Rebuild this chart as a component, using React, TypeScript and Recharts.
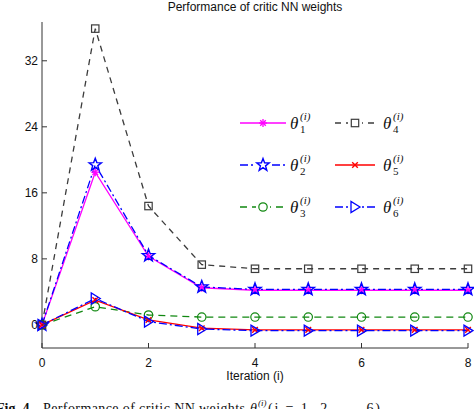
import React from 'react';
import {
  LineChart,
  Line,
  XAxis,
  YAxis,
  Legend,
} from 'recharts';

const iterations = [0, 1, 2, 3, 4, 5, 6, 7, 8];
const theta1 = [0, 18.5, 8.3, 4.5, 4.2, 4.2, 4.2, 4.2, 4.2];
const theta2 = [0, 19.4, 8.4, 4.6, 4.3, 4.3, 4.3, 4.3, 4.3];
const theta3 = [0, 2.2, 1.2, 0.95, 0.95, 0.95, 0.95, 0.95, 0.95];
const theta4 = [0, 35.9, 14.4, 7.3, 6.8, 6.8, 6.8, 6.8, 6.8];
const theta5 = [0, 3.0, 0.6, -0.4, -0.6, -0.6, -0.6, -0.6, -0.6];
const theta6 = [0, 3.2, 0.4, -0.5, -0.7, -0.7, -0.7, -0.7, -0.7];

const xTicks = [0, 2, 4, 6, 8];
const yTicks = [0, 8, 16, 24, 32];

const data = iterations.map((it, i) => ({
  it,
  t1: theta1[i],
  t2: theta2[i],
  t3: theta3[i],
  t4: theta4[i],
  t5: theta5[i],
  t6: theta6[i],
}));

const AXIS = '#333';
const FONT = '"Liberation Sans", Arial, sans-serif';
const SERIF = '"Liberation Serif", serif';

type Marker = 'asterisk' | 'star' | 'circle' | 'square' | 'cross' | 'triangle';

function markerShape(kind: Marker, cx: number, cy: number, color: string) {
  switch (kind) {
    case 'asterisk': {
      const r = 4;
      const d = r * 0.7;
      return (
        <g stroke={color} strokeWidth={1.3}>
          <line x1={cx - r} y1={cy} x2={cx + r} y2={cy} />
          <line x1={cx} y1={cy - r} x2={cx} y2={cy + r} />
          <line x1={cx - d} y1={cy - d} x2={cx + d} y2={cy + d} />
          <line x1={cx - d} y1={cy + d} x2={cx + d} y2={cy - d} />
        </g>
      );
    }
    case 'star': {
      const pts: string[] = [];
      for (let k = 0; k < 10; k++) {
        const r = k % 2 === 0 ? 6.5 : 2.7;
        const a = -Math.PI / 2 + (k * Math.PI) / 5;
        pts.push(`${cx + r * Math.cos(a)},${cy + r * Math.sin(a)}`);
      }
      return <polygon points={pts.join(' ')} fill="none" stroke={color} strokeWidth={1.4} />;
    }
    case 'circle':
      return <circle cx={cx} cy={cy} r={4.2} fill="none" stroke={color} strokeWidth={1.2} />;
    case 'square':
      return (
        <rect x={cx - 3.7} y={cy - 3.7} width={7.4} height={7.4} fill="none" stroke={color} strokeWidth={1.2} />
      );
    case 'cross': {
      const r = 2.8;
      return (
        <g stroke={color} strokeWidth={1.4}>
          <line x1={cx - r} y1={cy - r} x2={cx + r} y2={cy + r} />
          <line x1={cx - r} y1={cy + r} x2={cx + r} y2={cy - r} />
        </g>
      );
    }
    case 'triangle':
      return (
        <polygon
          points={`${cx + 5},${cy} ${cx - 4},${cy - 5.5} ${cx - 4},${cy + 5.5}`}
          fill="none"
          stroke={color}
          strokeWidth={1.3}
        />
      );
  }
}

const dotFor = (kind: Marker, color: string, name: string) => (props: any) => (
  <g key={`${name}-${props.index}`}>{markerShape(kind, props.cx, props.cy, color)}</g>
);

const series = [
  { key: 't1', sub: '1', color: '#ff00ff', dash: undefined, marker: 'asterisk' as Marker },
  { key: 't2', sub: '2', color: '#0000ff', dash: '8 3 2 3', marker: 'star' as Marker },
  { key: 't3', sub: '3', color: '#118811', dash: '7 5', marker: 'circle' as Marker },
  { key: 't4', sub: '4', color: '#3c3c3c', dash: '6 5', marker: 'square' as Marker },
  { key: 't5', sub: '5', color: '#ff0000', dash: undefined, marker: 'cross' as Marker },
  { key: 't6', sub: '6', color: '#0000ff', dash: '8 3 2 3', marker: 'triangle' as Marker },
];

const BottomTick = ({ x, y, payload }: any) => (
  <g>
    <line x1={x} x2={x} y1={y} y2={y - 5} stroke={AXIS} />
    <text x={x} y={y + 19} textAnchor="middle" fontSize={12} fontFamily={FONT} fill="#111">
      {payload.value}
    </text>
  </g>
);
const TopTick = ({ x, y }: any) => <line x1={x} x2={x} y1={y} y2={y + 5} stroke={AXIS} />;
const LeftTick = ({ x, y, payload }: any) => (
  <g>
    <line x1={x} x2={x + 5} y1={y} y2={y} stroke={AXIS} />
    <text x={x - 4} y={y + 4} textAnchor="end" fontSize={12} fontFamily={FONT} fill="#111">
      {payload.value}
    </text>
  </g>
);
const RightTick = ({ x, y }: any) => <line x1={x - 5} x2={x} y1={y} y2={y} stroke={AXIS} />;

// two-column legend drawn inside the plot box
const LegendBox = () => {
  const cols = [
    { lx: 10, len: 46, tx: 60 },
    { lx: 105, len: 40, tx: 153 },
  ];
  const rows = [23, 65, 107];
  return (
    <svg width={200} height={130}>
      {series.map((s, i) => {
        const c = cols[Math.floor(i / 3)];
        const y = rows[i % 3];
        const mx = c.lx + c.len / 2;
        return (
          <g key={s.key}>
            <line
              x1={c.lx}
              x2={c.lx + c.len}
              y1={y}
              y2={y}
              stroke={s.color}
              strokeWidth={1.4}
              strokeDasharray={s.dash}
            />
            <rect x={mx - 7} y={y - 7} width={14} height={14} fill="#fff" opacity={s.dash ? 1 : 0} />
            {markerShape(s.marker, mx, y, s.color)}
            <text x={c.tx} y={y + 6} fontSize={17} fontStyle="italic" fontFamily={SERIF} fill="#111">
              θ
            </text>
            <text x={c.tx + 10} y={y - 3} fontSize={11} fontStyle="italic" fontFamily={SERIF} fill="#111">
              (i)
            </text>
            <text x={c.tx + 10} y={y + 10} fontSize={11} fontFamily={SERIF} fill="#111">
              {s.sub}
            </text>
          </g>
        );
      })}
    </svg>
  );
};

export default function App() {
  return (
    <div style={{ position: 'absolute', left: 0, top: 0, width: 474, height: 409, overflow: 'hidden', background: '#fff' }}>
      <LineChart width={474} height={409} data={data} margin={{ top: 22, right: 6, bottom: 0, left: 0 }}>
        <XAxis
          dataKey="it"
          type="number"
          domain={[0, 8]}
          ticks={xTicks}
          height={61}
          tickSize={0}
          tickMargin={0}
          tick={<BottomTick />}
          axisLine={{ stroke: AXIS }}
          label={{ value: 'Iteration (i)', position: 'insideBottom', offset: 29, fontSize: 12, fontFamily: FONT, fill: '#111' }}
        />
        <XAxis
          xAxisId="top"
          orientation="top"
          dataKey="it"
          type="number"
          domain={[0, 8]}
          ticks={xTicks}
          height={0}
          tickSize={0}
          tickMargin={0}
          tick={<TopTick />}
          axisLine={{ stroke: AXIS }}
        />
        <YAxis
          type="number"
          domain={[-2.8, 36.7]}
          ticks={yTicks}
          width={42}
          tickSize={0}
          tickMargin={0}
          tick={<LeftTick />}
          axisLine={{ stroke: AXIS }}
          allowDataOverflow
        />
        <YAxis
          yAxisId="right"
          orientation="right"
          type="number"
          domain={[-2.8, 36.7]}
          ticks={yTicks}
          width={0}
          tickSize={0}
          tickMargin={0}
          tick={<RightTick />}
          axisLine={{ stroke: AXIS }}
          allowDataOverflow
        />
        <Legend
          layout="horizontal"
          verticalAlign="middle"
          align="center"
          content={() => <LegendBox />}
          wrapperStyle={{ left: 230, top: 100, width: 200, height: 130 }}
        />
        {series.map((s) => (
          <Line
            key={s.key}
            dataKey={s.key}
            type="linear"
            stroke={s.color}
            strokeWidth={1.3}
            strokeDasharray={s.dash}
            dot={dotFor(s.marker, s.color, s.key)}
            activeDot={false}
            isAnimationActive={false}
            legendType="none"
          />
        ))}
      </LineChart>
      <svg width={474} height={409} style={{ position: 'absolute', left: 0, top: 0, pointerEvents: 'none' }}>
        <text x={255} y={11} textAnchor="middle" fontFamily={FONT} fontSize={12} fill="#111">
          Performance of critic NN weights
        </text>
        <g fontFamily={SERIF} fontSize={14} fill="#111">
          <text x={-4} y={413} fontWeight="bold">Fig. 4</text>
          <text x={43} y={413} textLength={202} lengthAdjust="spacing">Performance of critic NN weights</text>
          <text x={250} y={413} fontStyle="italic">θ</text>
          <text x={258} y={406} fontSize={9} fontStyle="italic">(i)</text>
          <text x={268} y={413} textLength={112} lengthAdjust="spacing">(i = 1, 2, ..., 6)</text>
        </g>
      </svg>
    </div>
  );
}
